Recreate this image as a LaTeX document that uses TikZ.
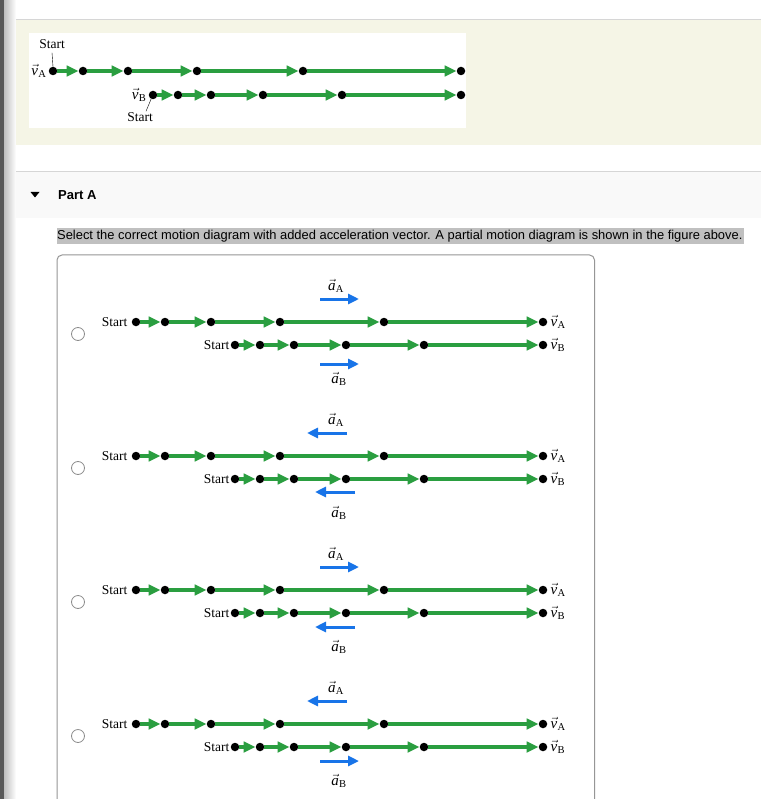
\documentclass[tikz,border=0pt]{standalone}
\usepackage{amsmath}
\usepackage{fontspec}
\setmainfont{Liberation Serif}
\newfontfamily\uifont{Liberation Sans}
\usetikzlibrary{arrows.meta}
\usetikzlibrary{positioning}

\definecolor{velgreen}{RGB}{42,158,64}
\definecolor{accblue}{RGB}{24,116,232}
\definecolor{panelbeige}{RGB}{245,245,230}
\definecolor{headgray}{RGB}{249,249,249}
\definecolor{rulegray}{RGB}{214,214,214}
\definecolor{markgray}{RGB}{192,192,192}
\definecolor{boxgray}{RGB}{150,150,150}

% vector symbol with roman subscript
\newcommand{\vsym}[2]{$\vec{\textit{#1}}$\kern0.3pt\textsubscript{#2}}

\tikzset{
  dot/.style={circle,fill=black,inner sep=0pt,minimum size=8.5pt},
  vel/.style={velgreen,line width=3.2pt,-{Triangle[length=12pt,width=10.5pt]}},
  accel/.style={accblue,line width=3pt,-{Triangle[length=11pt,width=10pt]}},
  startlab/.style={inner sep=0pt,font=\fontsize{13.5}{15}\selectfont},
  veclab/.style={inner sep=0pt,font=\fontsize{15}{17}\selectfont},
  radio/.style={draw=gray!90,line width=0.8pt,circle,minimum size=13pt,inner sep=0pt},
}

\begin{document}
\begin{tikzpicture}[x=1pt,y=-1pt]
  \useasboundingbox (0,0) rectangle (761,799);
  \fill[white] (0,0) rectangle (761,799);

  % Left window edge
  \fill[black!65] (0,0) rectangle (4,799);
  \shade[left color=black!25,right color=white] (4,0) rectangle (16,799);

  % Figure panel
  \draw[rulegray] (16,19.5) -- (761,19.5);
  \fill[panelbeige] (16,20) rectangle (761,145);
  \fill[white] (29,33) rectangle (466,128);

  % Partial motion diagram
  \foreach \x [count=\j] in {0,30,75,144,250,408}
    \node[dot] (tA-\j) at (53+\x,71) {};
  \foreach \x [count=\j] in {100,125,158,210,289,408}
    \node[dot] (tB-\j) at (53+\x,95) {};
  \foreach \j [evaluate=\j as \i using int(\j-1)] in {2,...,6} {
    \draw[vel] (tA-\i) -- (tA-\j);
    \draw[vel] (tB-\i) -- (tB-\j);
  }
  \node[startlab] (stA) at (52,44) {Start};
  \draw[thin] ([yshift=-4pt]stA.south) -- (tA-1.north);
  \node[veclab,left=2pt of tA-1] (vtA) {\vsym{v}{A}};
  \node[veclab,left=2pt of tB-1] (vtB) {\vsym{v}{B}};
  \node[startlab] (stB) at (140,117) {Start};
  \draw[thin] (tB-1.245) -- ([xshift=6pt,yshift=1pt]stB.north);

  % Part A header
  \draw[rulegray] (16,171.5) -- (761,171.5);
  \fill[headgray] (16,172) rectangle (761,218);
  \fill[black] (30.5,192) -- (39.5,192) -- (35,197.5) -- cycle;
  \node[anchor=west,inner sep=0pt,font=\uifont\bfseries\fontsize{13}{15}\selectfont] (parta) at (58,195) {Part A};

  % Question
  \fill[markgray] (57,228) rectangle (744,244);
  \node[anchor=west,inner sep=0pt,font=\uifont\fontsize{12.9}{15}\selectfont] (quest) at (57,236)
    {Select the correct motion diagram with added acceleration vector. A partial motion diagram is shown in the figure above.};

  % Answer box
  \draw[boxgray,line width=1pt,rounded corners=5pt] (57,812) -- (57,255) -- (594.5,255) -- (594.5,812);

  % Answer choices
  \foreach \k/\ya/\ta/\ha/\tb/\hb/\gb in {1/322/320/359/320/359/42,
                                        2/456/347/307/355/315/36,
                                        3/590/320/359/355/315/37,
                                        4/724/347/307/320/359/37} {
    \node[radio] (rad\k) at (78,\ya+12) {};
    \foreach \x [count=\j] in {0,29,75,144,248,407}
      \node[dot] (a\k-\j) at (136+\x,\ya) {};
    \foreach \x [count=\j] in {99,124,158,210,288,407}
      \node[dot] (b\k-\j) at (136+\x,\ya+23) {};
    \foreach \j [evaluate=\j as \i using int(\j-1)] in {2,...,6} {
      \draw[vel] (a\k-\i) -- (a\k-\j);
      \draw[vel] (b\k-\i) -- (b\k-\j);
    }
    \node[startlab,left=4pt of a\k-1] (sa\k) {Start};
    \node[startlab,left=1pt of b\k-1] (sb\k) {Start};
    \node[veclab,right=3pt of a\k-6] (va\k) {\vsym{v}{A}};
    \node[veclab,right=3pt of b\k-6] (vb\k) {\vsym{v}{B}};

    % Acceleration vectors
    \coordinate (aAt\k) at (\ta,\ya-23);
    \coordinate (aAh\k) at (\ha,\ya-23);
    \coordinate (aBt\k) at (\tb,\ya+\gb);
    \coordinate (aBh\k) at (\hb,\ya+\gb);
    \draw[accel] (aAt\k) -- (aAh\k);
    \draw[accel] (aBt\k) -- (aBh\k);
    \node[veclab] (la\k) at (336,\ya-36) {\vsym{a}{A}};
    \node[veclab] (lb\k) at (339,\ya+57) {\vsym{a}{B}};
  }
\end{tikzpicture}
\end{document}
